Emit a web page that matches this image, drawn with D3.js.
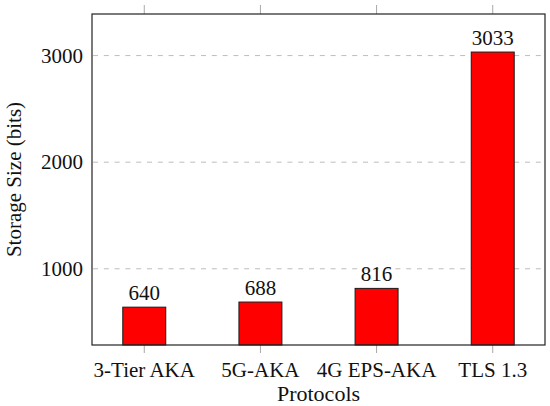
<!DOCTYPE html>
<html>
<head>
<meta charset="utf-8">
<script src="https://cdn.jsdelivr.net/npm/d3@7"></script>
<style>
  body { margin: 0; background: #fff; }
  svg text { font-family: 'Liberation Serif', serif; fill: #111; }
</style>
</head>
<body>
<svg id="chart" width="550" height="406"></svg>
<script>
// data
const protocols = ["3-Tier AKA", "5G-AKA", "4G EPS-AKA", "TLS 1.3"];
const storageBits = [640, 688, 816, 3033];
const yTicks = [1000, 2000, 3000];

const svg = d3.select("#chart");
const plot = { left: 92, right: 545, top: 14, bottom: 345 };
const serif = "'Liberation Serif', serif";

const x = d3.scaleBand()
    .domain(protocols)
    .range([plot.left, plot.right])
    .paddingInner(0.63)
    .paddingOuter(0.265);

const y = d3.scaleLinear()
    .domain([285, 3390])
    .range([plot.bottom, plot.top]);

// horizontal dashed grid
svg.append("g")
    .selectAll("line")
    .data(yTicks)
    .join("line")
    .attr("x1", plot.left + 1)
    .attr("x2", plot.right)
    .attr("y1", d => y(d))
    .attr("y2", d => y(d))
    .attr("stroke", "#bdbdbd")
    .attr("stroke-width", 1)
    .attr("stroke-dasharray", "5,5.8");

// y axis labels
const yAxis = svg.append("g")
    .attr("transform", `translate(${plot.left},0)`)
    .call(d3.axisLeft(y).tickValues(yTicks).tickSize(0).tickPadding(9).tickFormat(d3.format("d")));
yAxis.attr("font-family", null).attr("font-size", null);
yAxis.select(".domain").remove();
yAxis.selectAll("text")
    .style("font-family", serif)
    .style("font-size", "21px")
    .attr("fill", "#111");

// x axis: tick marks below and above the box
const xCenter = d => x(d) + x.bandwidth() / 2;
const xAxis = svg.append("g")
    .attr("transform", `translate(0,${plot.bottom})`)
    .call(d3.axisBottom(x).tickSize(8).tickPadding(9));
xAxis.attr("font-family", null).attr("font-size", null);
xAxis.select(".domain").remove();
xAxis.selectAll("line").attr("stroke", "#a8a8a8");
xAxis.selectAll("text")
    .style("font-family", serif)
    .style("font-size", "21px")
    .attr("fill", "#111");

const xTop = svg.append("g")
    .attr("transform", `translate(0,${plot.top})`)
    .call(d3.axisTop(x).tickSize(9).tickFormat(""));
xTop.select(".domain").remove();
xTop.selectAll("line").attr("stroke", "#a8a8a8");

// bars
svg.append("g")
    .selectAll("rect")
    .data(protocols)
    .join("rect")
    .attr("x", d => x(d))
    .attr("y", (d, i) => y(storageBits[i]))
    .attr("width", x.bandwidth())
    .attr("height", (d, i) => plot.bottom - y(storageBits[i]))
    .attr("fill", "#ff0000")
    .attr("stroke", "#1a1a1a")
    .attr("stroke-width", 1);

// value labels
svg.append("g")
    .selectAll("text")
    .data(protocols)
    .join("text")
    .attr("x", d => xCenter(d))
    .attr("y", (d, i) => y(storageBits[i]) - 7.5)
    .attr("text-anchor", "middle")
    .style("font-family", serif)
    .style("font-size", "21px")
    .text((d, i) => storageBits[i]);

// frame
svg.append("rect")
    .attr("x", plot.left)
    .attr("y", plot.top)
    .attr("width", plot.right - plot.left)
    .attr("height", plot.bottom - plot.top)
    .attr("fill", "none")
    .attr("stroke", "#222")
    .attr("stroke-width", 1.2);

// axis titles
svg.append("text")
    .attr("x", (plot.left + plot.right) / 2)
    .attr("y", 401)
    .attr("text-anchor", "middle")
    .style("font-family", serif)
    .style("font-size", "22px")
    .text("Protocols");

svg.append("text")
    .attr("transform", `translate(21,${(plot.top + plot.bottom) / 2}) rotate(-90)`)
    .attr("text-anchor", "middle")
    .style("font-family", serif)
    .style("font-size", "21px")
    .text("Storage Size (bits)");
</script>
</body>
</html>
